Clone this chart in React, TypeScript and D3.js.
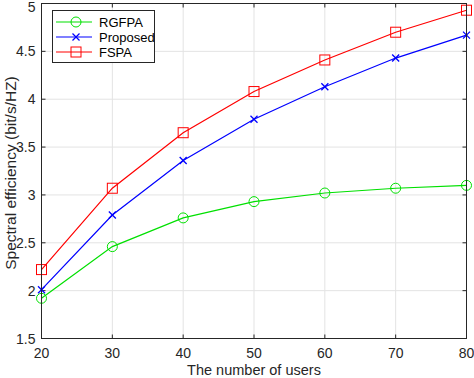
import React from "react";
import * as d3 from "d3";

const users = [20, 30, 40, 50, 60, 70, 80];
const rgfpa = [1.92, 2.46, 2.76, 2.93, 3.02, 3.07, 3.1];
const proposed = [2.01, 2.79, 3.36, 3.79, 4.13, 4.43, 4.67];
const fspa = [2.22, 3.07, 3.65, 4.08, 4.41, 4.7, 4.93];
const xTicks = [20, 30, 40, 50, 60, 70, 80];
const yTicks = [1.5, 2, 2.5, 3, 3.5, 4, 4.5, 5];
const seriesNames = ["RGFPA", "Proposed", "FSPA"];
const seriesColors = ["#00e000", "#0000ff", "#ff0000"];
const seriesMarkers = ["circle", "x", "square"];

const W = 474;
const H = 378;
const L = 41.5, R = 466.5, T = 3.5, B = 338.5;

function Marker({ type, x, y, color }: { type: string; x: number; y: number; color: string }) {
  if (type === "circle") return <circle cx={x} cy={y} r={5} fill="none" stroke={color} strokeWidth={1} />;
  if (type === "square") return <rect x={x - 5} y={y - 5} width={10} height={10} fill="none" stroke={color} strokeWidth={1} />;
  return (
    <g stroke={color} strokeWidth={1.3}>
      <line x1={x - 3.5} y1={y - 3.5} x2={x + 3.5} y2={y + 3.5} />
      <line x1={x - 3.5} y1={y + 3.5} x2={x + 3.5} y2={y - 3.5} />
    </g>
  );
}

export default function App() {
  const x = d3.scaleLinear().domain([20, 80]).range([L, R]);
  const y = d3.scaleLinear().domain([1.5, 5]).range([B, T]);
  const data = [rgfpa, proposed, fspa];
  const line = d3.line<number>().x((_, i) => x(users[i])).y((d) => y(d));
  const axisColor = "#262626";
  const font = "'Liberation Sans', Arial, sans-serif";
  return (
    <svg width={W} height={H} style={{ position: "absolute", left: 0, top: 0 }} fontFamily={font}>
      <rect x={0} y={0} width={W} height={H} fill="#fff" />
      {/* grid */}
      {xTicks.map((t) => (
        <line key={"gx" + t} x1={x(t)} x2={x(t)} y1={T} y2={B} stroke="#e3e3e3" strokeWidth={1} />
      ))}
      {yTicks.map((t) => (
        <line key={"gy" + t} x1={L} x2={R} y1={y(t)} y2={y(t)} stroke="#e3e3e3" strokeWidth={1} />
      ))}
      {/* ticks */}
      {xTicks.map((t) => (
        <g key={"tx" + t} stroke={axisColor}>
          <line x1={x(t)} x2={x(t)} y1={B} y2={B - 4} />
          <line x1={x(t)} x2={x(t)} y1={T} y2={T + 4} />
        </g>
      ))}
      {yTicks.map((t) => (
        <g key={"ty" + t} stroke={axisColor}>
          <line x1={L} x2={L + 4} y1={y(t)} y2={y(t)} />
          <line x1={R} x2={R - 4} y1={y(t)} y2={y(t)} />
        </g>
      ))}
      {/* series */}
      {data.map((s, si) => (
        <g key={si}>
          <path d={line(s) || ""} fill="none" stroke={seriesColors[si]} strokeWidth={1.2} />
          {s.map((v, i) => (
            <Marker key={i} type={seriesMarkers[si]} x={x(users[i])} y={y(v)} color={seriesColors[si]} />
          ))}
        </g>
      ))}
      <rect x={L} y={T} width={R - L} height={B - T} fill="none" stroke={axisColor} strokeWidth={1} />
      {/* tick labels */}
      {xTicks.map((t) => (
        <text key={"lx" + t} x={x(t)} y={B + 19.5} textAnchor="middle" fontSize={14} fill={axisColor}>
          {t}
        </text>
      ))}
      {yTicks.map((t) => (
        <text key={"ly" + t} x={L - 6} y={Math.max(y(t) + 5, 11.5)} textAnchor="end" fontSize={14} fill={axisColor}>
          {t}
        </text>
      ))}
      <text x={254} y={H - 3} textAnchor="middle" fontSize={14.5} fill={axisColor}>
        The number of users
      </text>
      <text
        transform={`translate(16, 173) rotate(-90)`}
        textAnchor="middle"
        fontSize={15.5}
        fill={axisColor}
      >
        Spectral efficiency (bit/s/HZ)
      </text>
      {/* legend */}
      <rect x={52.5} y={10.5} width={102} height={52} fill="#fff" stroke={axisColor} strokeWidth={1} />
      {seriesNames.map((n, i) => {
        const ly = 22 + i * 15;
        return (
          <g key={n}>
            <line x1={56} x2={92} y1={ly} y2={ly} stroke={seriesColors[i]} strokeWidth={1.2} />
            <Marker type={seriesMarkers[i]} x={76} y={ly} color={seriesColors[i]} />
            <text x={99} y={ly + 4.5} fontSize={13} fill="#000">
              {n}
            </text>
          </g>
        );
      })}
    </svg>
  );
}
